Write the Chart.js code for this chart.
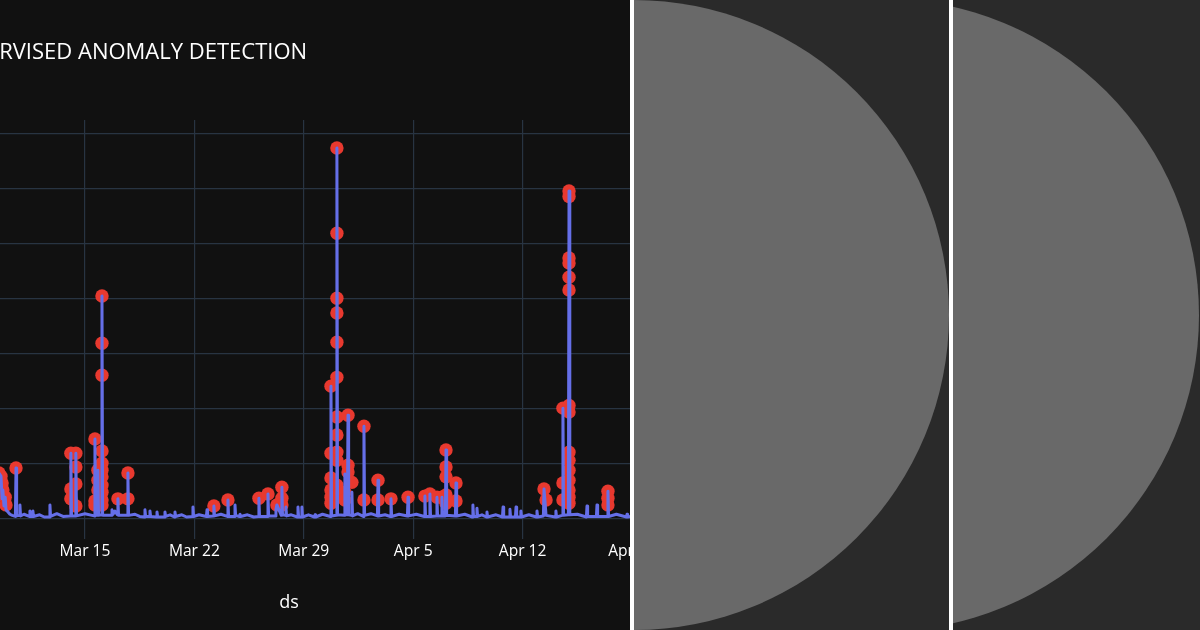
<!DOCTYPE html>
<html>
<head>
<meta charset="utf-8">
<script src="https://cdn.jsdelivr.net/npm/chart.js@4"></script>
<style>
    html, body { margin: 0; padding: 0; background: #fff; }
    #stage { position: relative; width: 1200px; height: 630px; overflow: hidden; background: #fff; }
    #plot-box { position: absolute; left: 0; top: 0; width: 630px; height: 630px; overflow: hidden; background: #111111; }
    #plot-wrap { position: absolute; left: -87px; top: 0; width: 752px; height: 630px; }
    .panel { position: absolute; top: 0; height: 630px; overflow: hidden; background: #2a2a2a; }
    .disc { position: absolute; background: #696969; border-radius: 50%; }
</style>
</head>
<body>
<div id="stage">
    <div id="plot-box"><div id="plot-wrap"><canvas id="anomalyChart"></canvas></div></div>
    <div class="panel" style="left:634px;width:315px"><div class="disc" style="left:-315px;top:0;width:630px;height:630px"></div></div>
    <div class="panel" style="left:953px;width:247px"><div class="disc" style="left:-386px;top:-1px;width:632px;height:632px"></div></div>
</div>
<script>
// x values are days counted from Mar 1 (Mar 15 = 14)
const tickDays = [14, 21, 28, 35, 42, 49];
const tickLabels = ['Mar 15', 'Mar 22', 'Mar 29', 'Apr 5', 'Apr 12', 'Apr 19'];
const gridValues = [0, 10, 20, 30, 40, 50, 60, 70];

const lineDays = [
    8.50, 8.63, 8.70, 8.75, 8.82, 8.90, 8.95, 9.05, 9.20, 9.35,
    9.55, 9.59, 9.63, 9.80, 9.84, 9.88, 10.10, 10.44, 10.48, 10.52, 10.63, 10.67, 10.71, 11.10, 11.40,
    11.72, 11.76, 11.80, 12.20, 12.60, 13.06, 13.10, 13.14, 13.38, 13.42, 13.46, 14.00,
    14.60, 14.64, 14.68, 14.79, 14.83, 14.87, 15.05, 15.09, 15.13,
    15.69, 15.73, 15.80, 15.92, 16.07, 16.11, 16.15, 16.71, 16.75, 16.79, 17.20, 17.50,
    17.80, 17.84, 17.88, 18.12, 18.16, 18.20, 18.57, 18.61, 18.65, 19.08, 19.12, 19.16, 19.45,
    19.72, 19.76, 19.80, 20.20, 20.50, 20.87, 20.91, 20.95, 21.30, 21.77, 21.81, 21.85, 22.21, 22.25, 22.29, 22.70,
    23.11, 23.15, 23.19, 23.56, 23.60, 23.64, 23.88, 23.92, 23.96, 24.40, 24.80, 25.09, 25.13, 25.17,
    25.67, 25.71, 25.75, 26.18, 26.22, 26.28, 26.56, 26.60, 26.64, 26.82, 26.86, 26.90, 27.20,
    27.59, 27.63, 27.67, 27.84, 27.88, 27.92, 28.30, 28.68, 28.72, 28.76, 29.20, 29.70, 29.74, 29.78,
    30.08, 30.12, 30.16, 30.59, 30.63, 30.67, 30.79, 30.83, 30.87, 31.04, 31.08, 31.12, 31.45,
    31.81, 31.85, 31.89, 32.30, 32.71, 32.75, 32.79, 33.20, 33.54, 33.58, 33.62, 34.10, 34.63, 34.67, 34.71, 35.20,
    35.71, 35.75, 35.79, 36.03, 36.07, 36.11, 36.48, 36.52, 36.56, 36.80, 36.84, 36.88,
    37.06, 37.10, 37.14, 37.70, 37.74, 37.78, 38.30, 38.78, 38.82, 38.86, 39.04, 39.08, 39.12, 39.40,
    39.68, 39.72, 39.76, 40.30, 40.71, 40.75, 40.79, 41.15, 41.19, 41.23, 41.54, 41.58, 41.62,
    41.85, 41.89, 41.93, 42.40, 42.88, 42.92, 42.96, 43.33, 43.37, 43.50, 44.09, 44.13, 44.17,
    44.54, 44.58, 44.62, 44.93, 44.97, 45.02, 45.50, 46.08, 46.12, 46.16, 46.72, 46.76, 46.80,
    47.42, 47.46, 47.50, 48.00, 48.64, 48.68, 48.72, 49.60, 50.40, 51.50,
];
const lineValues = [
    8.2, 7.6, 3.5, 5.1, 2.2, 3.8, 1.5, 1.2, 0.7, 0.5,
    0.3, 9.1, 0.4, 0.5, 2.4, 0.4, 0.7, 0.3, 1.3, 0.3, 0.3, 1.3, 0.3, 0.6, 0.2,
    0.2, 2.4, 0.3, 0.8, 0.3, 0.4, 11.8, 0.4, 0.4, 11.8, 0.4, 0.8,
    0.4, 14.4, 0.5, 0.5, 8.7, 0.5, 0.6, 40.4, 0.5,
    0.5, 1.5, 0.7, 1.3, 0.6, 3.5, 0.5, 0.5, 8.2, 0.5, 0.7, 0.3,
    0.2, 1.5, 0.3, 0.3, 1.3, 0.3, 0.2, 1.1, 0.2, 0.2, 1.1, 0.3, 0.6,
    0.2, 1.1, 0.3, 0.6, 0.2, 0.3, 2.0, 0.3, 0.6, 0.3, 1.5, 0.3, 0.4, 2.2, 0.4, 0.7,
    0.3, 3.3, 0.3, 0.3, 2.4, 0.5, 0.3, 0.7, 0.3, 0.6, 0.2, 0.3, 3.6, 0.3,
    0.3, 4.4, 0.4, 0.4, 1.6, 2.4, 0.5, 5.6, 0.6, 0.5, 2.0, 0.4, 0.6,
    0.2, 2.0, 0.2, 0.2, 2.0, 0.2, 0.6, 0.2, 0.6, 0.2, 0.7, 0.3, 24.0, 0.4,
    0.5, 67.3, 0.6, 0.5, 8.0, 0.6, 0.6, 18.7, 0.6, 0.5, 4.7, 0.4, 0.8,
    0.3, 16.7, 0.5, 0.8, 0.4, 6.9, 0.4, 0.6, 0.3, 3.5, 0.3, 0.7, 0.4, 3.8, 0.4, 0.7,
    0.3, 4.0, 0.3, 0.3, 4.4, 0.3, 0.4, 3.8, 0.4, 0.4, 3.8, 0.4,
    0.4, 12.4, 0.5, 0.4, 6.4, 0.4, 0.7, 0.2, 2.4, 0.3, 0.3, 1.8, 0.3, 0.6,
    0.2, 1.1, 0.2, 0.6, 0.2, 2.0, 0.2, 0.2, 1.6, 0.2, 0.2, 2.0, 0.2,
    0.2, 1.3, 0.2, 0.6, 0.2, 1.3, 0.2, 0.4, 5.3, 0.5, 0.2, 1.3, 0.2,
    0.5, 20.0, 0.5, 0.6, 59.5, 0.6, 0.7, 0.2, 2.2, 0.3, 0.3, 2.4, 0.3,
    0.3, 4.9, 0.3, 0.7, 0.2, 0.7, 0.2, 0.6, 0.3, 0.5,
];

const anomalyDays = [
    8.50, 8.63, 8.70, 8.75, 8.90, 8.95, 9.59,
    13.10, 13.10, 13.10, 13.42, 13.42, 13.42, 13.42,
    14.64, 14.64, 14.64, 14.83, 14.83, 14.83, 14.83,
    15.09, 15.09, 15.09, 15.09, 15.09, 15.09, 15.09, 15.09, 15.09, 15.09, 15.09,
    16.11, 16.75, 16.75, 22.25, 23.15, 25.13, 25.71, 26.28, 26.60, 26.60, 26.60,
    29.74, 29.74, 29.74, 29.74, 29.74, 29.74,
    30.12, 30.12, 30.12, 30.12, 30.12, 30.12, 30.12, 30.12, 30.12, 30.12, 30.12, 30.12,
    30.63, 30.63, 30.83, 30.83, 30.83, 31.08,
    31.85, 31.85, 32.75, 32.75, 33.58, 34.67,
    35.75, 36.07, 36.52, 36.84, 37.10, 37.10, 37.10, 37.10, 37.10, 37.74, 37.74,
    43.37, 43.50, 44.58, 44.58, 44.58,
    44.97, 44.97, 44.97, 44.97, 44.97, 44.97, 44.97, 44.97,
    44.97, 44.97, 44.97, 44.97, 44.97, 44.97, 44.97,
    47.46, 47.46, 47.46,
];
const anomalyValues = [
    8.2, 7.6, 6.4, 5.1, 3.8, 2.4, 9.1,
    11.8, 5.3, 3.5, 11.8, 9.3, 6.2, 2.2,
    14.4, 3.1, 2.4, 8.7, 6.9, 5.1, 2.4,
    40.4, 31.8, 26.0, 12.2, 10.0, 8.7, 7.5, 6.0, 4.7, 3.3, 2.4,
    3.5, 8.2, 3.5, 2.2, 3.3, 3.6, 4.4, 2.4, 5.6, 3.6, 2.4,
    24.0, 11.8, 7.3, 5.1, 3.8, 2.7,
    67.3, 51.8, 40.0, 37.3, 32.0, 25.6, 18.4, 15.1, 12.0, 10.5, 6.0, 4.2,
    4.7, 3.3, 18.7, 9.6, 8.4, 6.5,
    16.7, 3.3, 6.9, 3.3, 3.5, 3.8,
    4.0, 4.4, 3.8, 3.8, 12.4, 9.3, 7.5, 4.2, 2.7, 6.4, 3.1,
    5.3, 3.3, 20.0, 6.4, 3.3,
    59.5, 58.5, 47.3, 46.4, 43.8, 41.5, 20.5, 19.3,
    12.0, 10.5, 8.7, 6.9, 5.1, 3.8, 2.7,
    4.9, 3.6, 2.4,
];

const BG = '#111111';
const GRID = '#283442';
const FONT = "'Open Sans', sans-serif";

new Chart(document.getElementById('anomalyChart'), {
    type: 'scatter',
    data: {
        datasets: [
            {
                label: 'value',
                data: lineDays.map((d, i) => ({ x: d, y: lineValues[i] })),
                showLine: true,
                borderColor: '#656fe8',
                borderWidth: 3,
                borderJoinStyle: 'round',
                pointRadius: 0,
                order: 1,
            },
            {
                label: 'anomaly',
                data: anomalyDays.map((d, i) => ({ x: d, y: anomalyValues[i] })),
                showLine: false,
                backgroundColor: '#e8392f',
                borderWidth: 0,
                pointRadius: 6.7,
                order: 2,
            },
        ],
    },
    options: {
        responsive: true,
        maintainAspectRatio: false,
        animation: false,
        layout: { padding: 0, autoPadding: false },
        plugins: {
            legend: { display: false },
            tooltip: { enabled: false },
            title: {
                display: true,
                text: 'UNSUPERVISED ANOMALY DETECTION',
                align: 'start',
                color: '#ffffff',
                font: { family: FONT, size: 22, weight: 'normal' },
                padding: { top: 40, bottom: 53.6 },
            },
        },
        scales: {
            x: {
                type: 'linear',
                min: 3.0,
                max: 51.11,
                afterBuildTicks: (axis) => { axis.ticks = tickDays.map(v => ({ value: v })); },
                afterFit: (axis) => { axis.height = 91; axis.paddingLeft = 0; axis.paddingRight = 0; },
                grid: { color: GRID, lineWidth: 1.2, drawTicks: false },
                border: { display: false },
                ticks: {
                    color: '#ffffff',
                    font: { family: FONT, size: 15.6 },
                    padding: 3,
                    maxRotation: 0,
                    autoSkip: false,
                    callback: (v) => tickLabels[tickDays.indexOf(v)],
                },
                title: {
                    display: true,
                    text: 'ds',
                    color: '#ffffff',
                    font: { family: FONT, size: 18 },
                    padding: { top: 0, bottom: 16 },
                },
            },
            y: {
                min: -3.8,
                max: 72.4,
                afterBuildTicks: (axis) => { axis.ticks = gridValues.map(v => ({ value: v })); },
                afterFit: (axis) => { axis.width = 0; axis.paddingTop = 0; axis.paddingBottom = 0; },
                grid: { color: GRID, lineWidth: 1.2, drawTicks: false },
                border: { display: false },
                ticks: { display: false },
            },
        },
    },
    plugins: [{
        id: 'canvasBg',
        beforeDraw: (chart) => {
            const c = chart.ctx;
            c.save();
            c.fillStyle = BG;
            c.fillRect(0, 0, chart.width, chart.height);
            c.restore();
        },
    }],
});
</script>
</body>
</html>
